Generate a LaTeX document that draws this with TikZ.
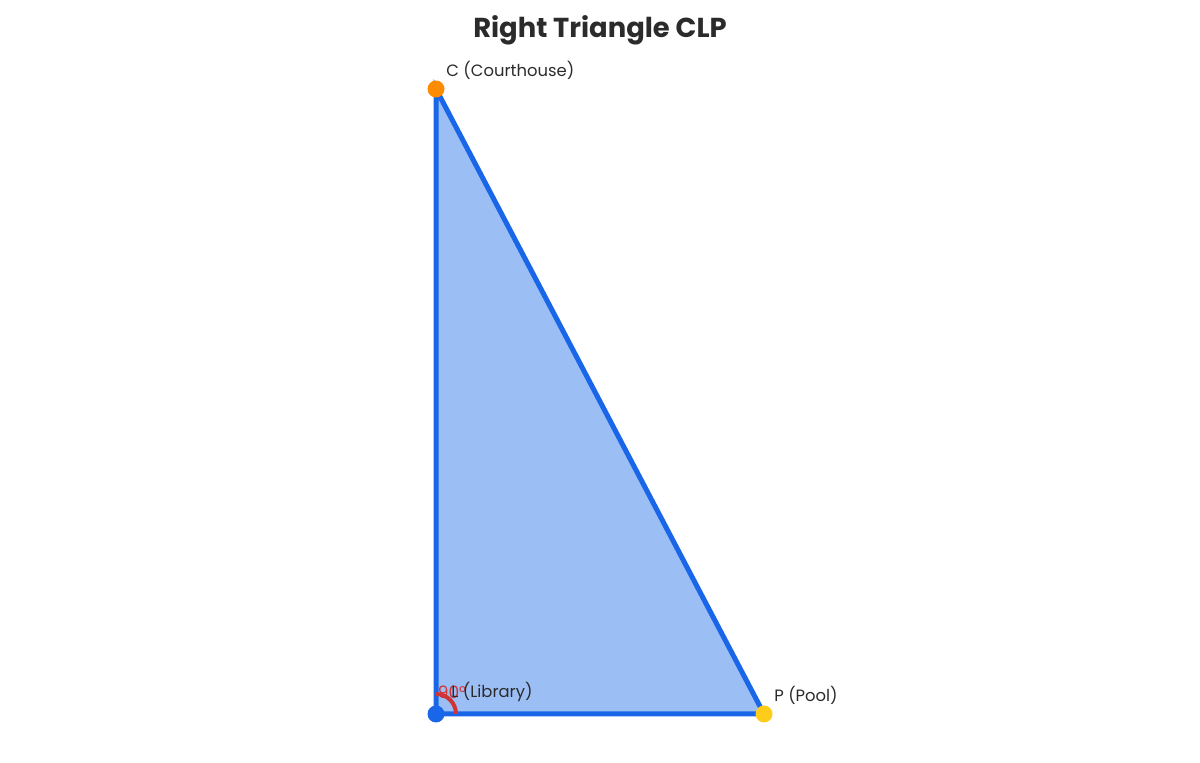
\documentclass[tikz,border=0pt]{standalone}
\usepackage{fontspec}
\setmainfont{Poppins}
\usetikzlibrary{positioning,calc}

\definecolor{edgeblue}{HTML}{1A66E8}
\definecolor{fillblue}{HTML}{9BBEF5}
\definecolor{ptorange}{HTML}{FF8C00}
\definecolor{ptyellow}{HTML}{FFCC1A}
\definecolor{angred}{HTML}{D03434}
\definecolor{labgray}{HTML}{2B2B2B}

\tikzset{
    vertex/.style={circle, inner sep=0pt, minimum size=8.5pt},
    ptlabel/.style={anchor=south west, inner sep=0pt, text=labgray, font=\fontsize{8.2}{9}\selectfont},
}

\begin{document}
\begin{tikzpicture}[x=0.5pt, y=0.5pt]
        \useasboundingbox (0, 0) rectangle (1200, 763);
        % corners
        \coordinate (C) at (436, 674);
        \coordinate (L) at (436, 49);
        \coordinate (P) at (764, 49);
        \node[font=\bfseries\fontsize{13.7}{16}\selectfont, text=labgray] (title) at (600, 733) {Right Triangle CLP};
        \draw[edgeblue, fill=fillblue, line width=2.5pt, line join=miter] (C) -- (L) -- (P) -- cycle;
        % right angle mark
        \draw[angred, line width=2pt] ($(L)+(20, 0)$) arc (0:90:20);
        \node[text=angred, inner sep=0pt, font=\fontsize{8.5}{9}\selectfont] (ang) at (452, 71) {90°};
        \node[vertex, fill=ptorange] (Cdot) at (C) {};
        \node[vertex, fill=edgeblue] (Ldot) at (L) {};
        \node[vertex, fill=ptyellow] (Pdot) at (P) {};
        \node[ptlabel] (Clab) at ($(C)+(10, 9)$) {C (Courthouse)};
        \node[ptlabel] (Llab) at ($(L)+(15, 12)$) {L (Library)};
        \node[ptlabel] (Plab) at ($(P)+(10, 9)$) {P (Pool)};
\end{tikzpicture}
\end{document}
